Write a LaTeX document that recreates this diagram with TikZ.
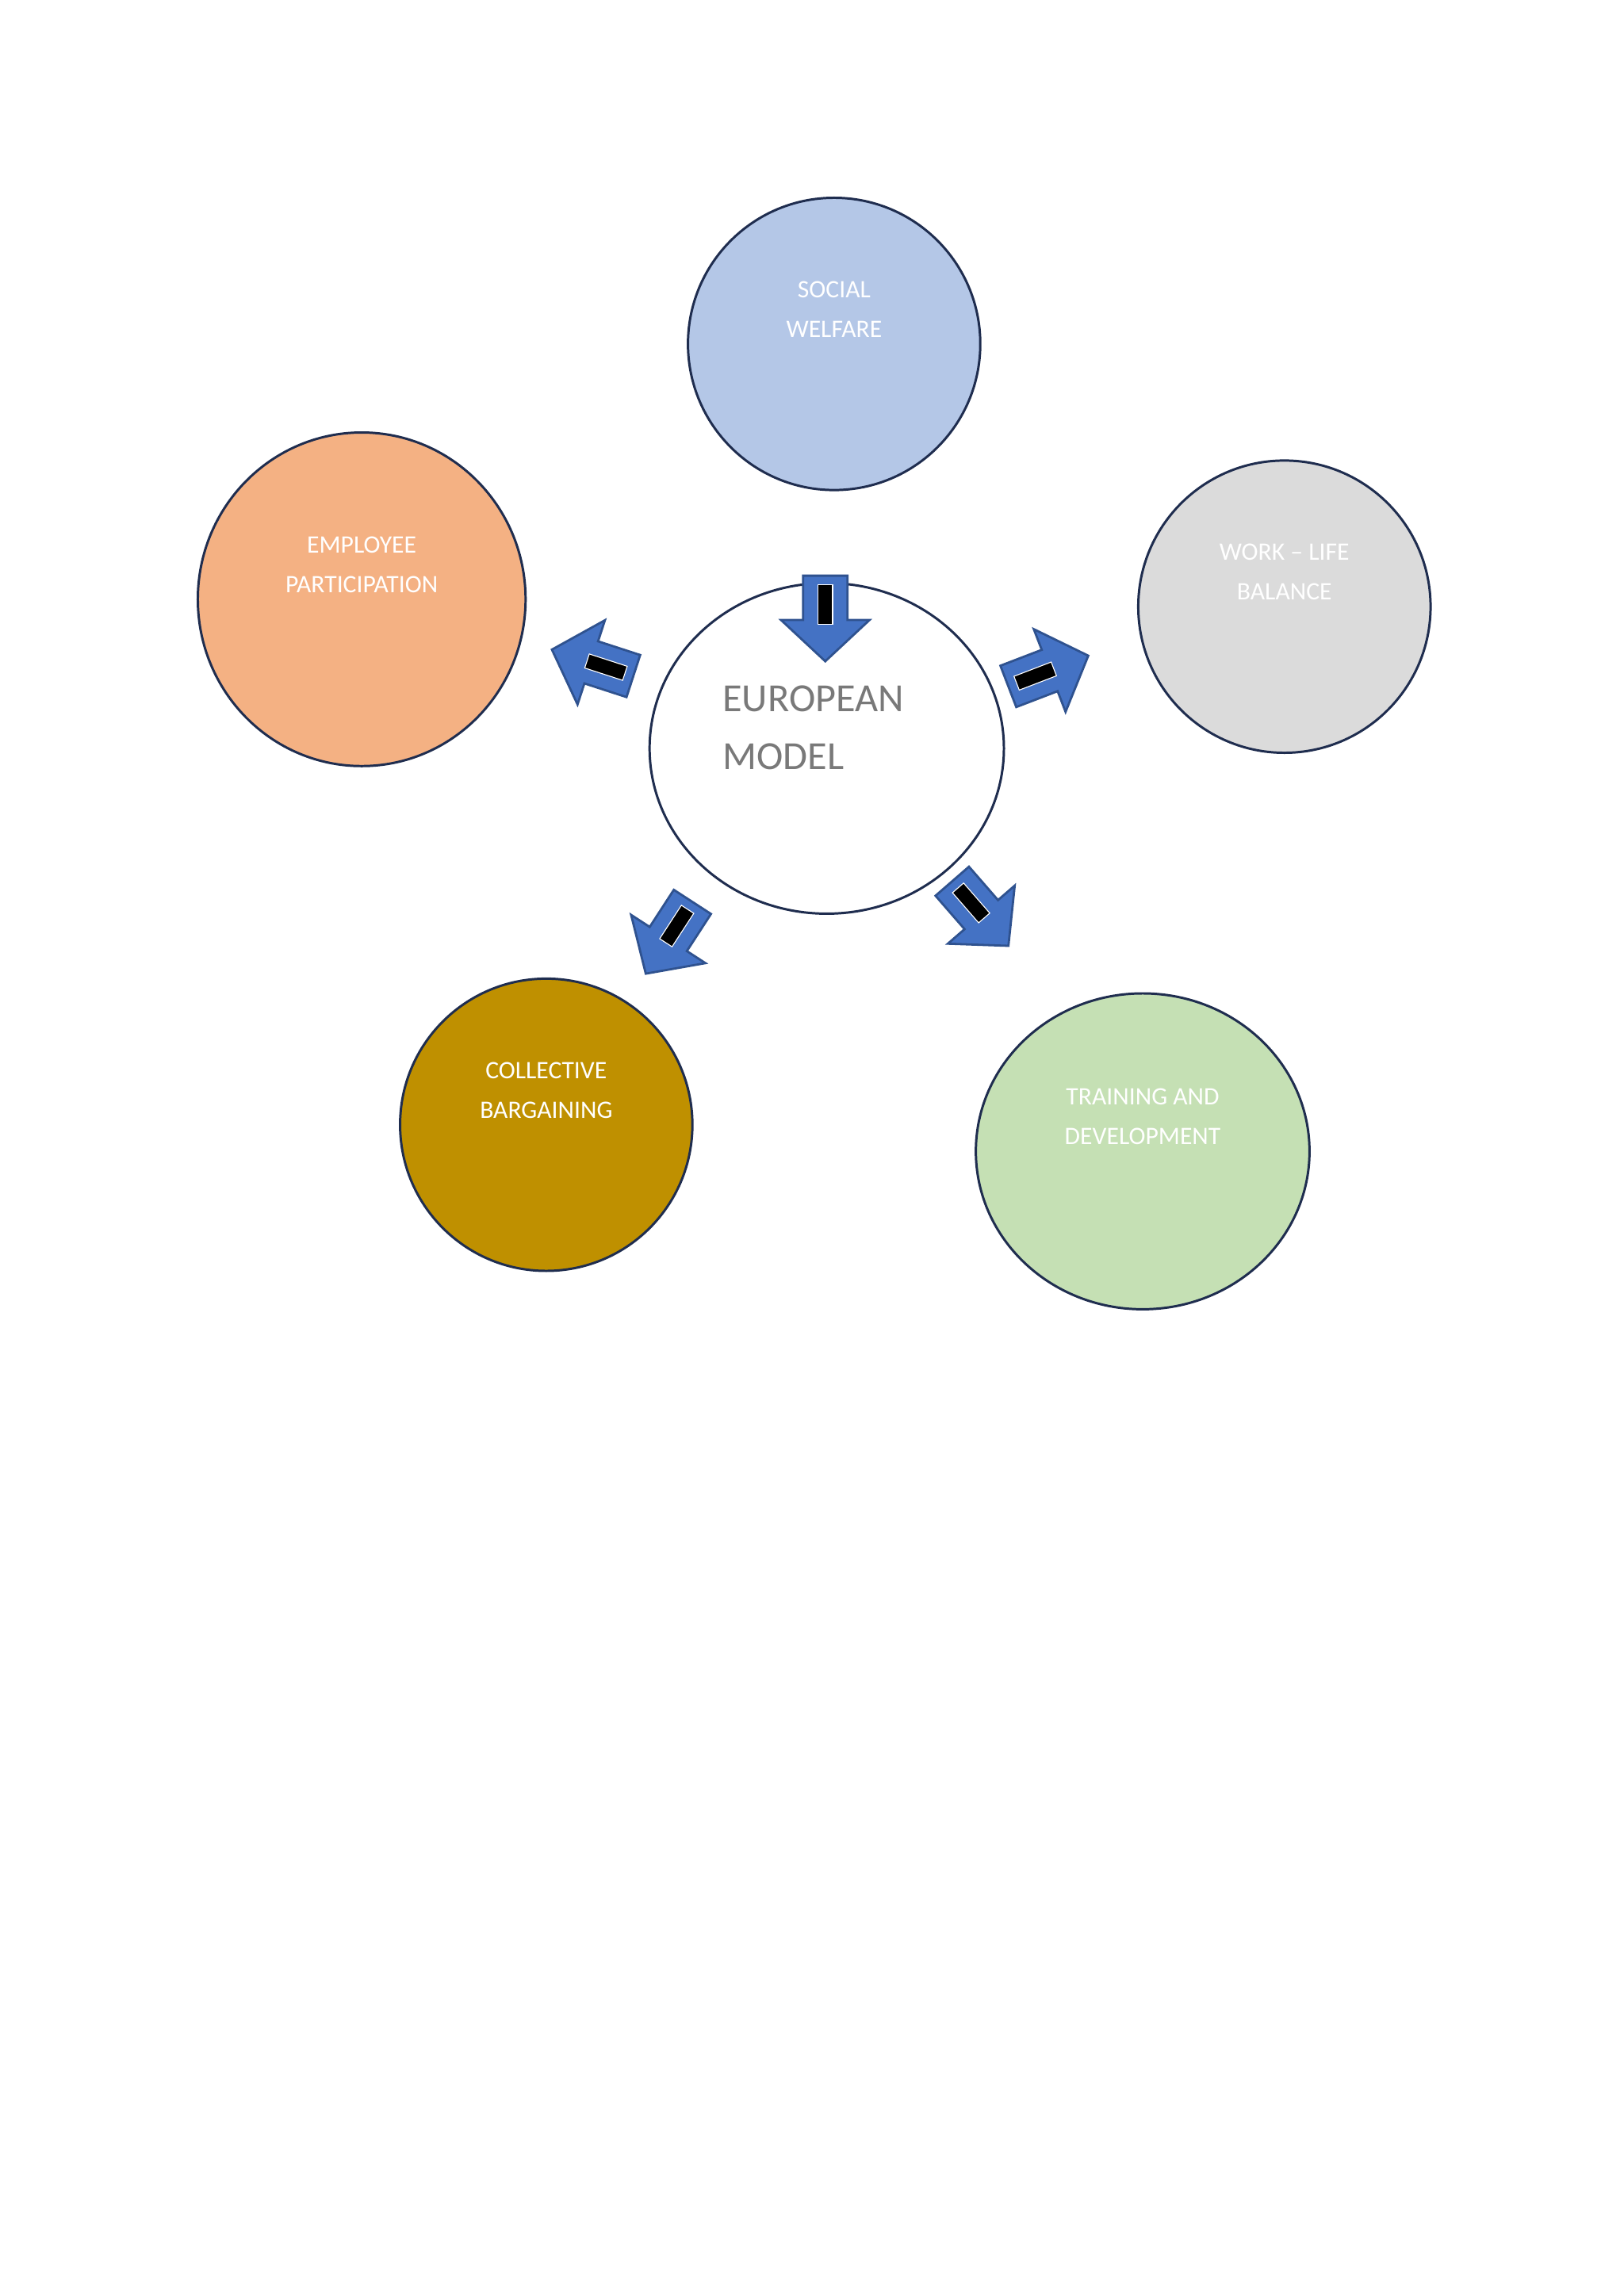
\documentclass[tikz,border=0pt]{standalone}
\usepackage{fontspec}
\setmainfont{Carlito}
\definecolor{navy}{HTML}{1F2D4F}
\definecolor{afill}{HTML}{4472C4}
\definecolor{aline}{HTML}{2F528F}
\definecolor{cSoc}{HTML}{B4C7E7}
\definecolor{cEmp}{HTML}{F4B183}
\definecolor{cWork}{HTML}{DBDBDB}
\definecolor{cCol}{HTML}{BF9000}
\definecolor{cTrain}{HTML}{C5E0B4}
\tikzset{
  circ/.style={ellipse, draw=navy, line width=1.6pt, text=white, align=center, font=\fontsize{17}{27}\selectfont},
  blockarrow/.pic={
    \draw[fill=afill, draw=aline, line width=1.5pt, line join=miter]
      (0,-15) -- (30,-15) -- (30,-30) -- (58,0) -- (30,30) -- (30,15) -- (0,15) -- cycle;
    \draw[fill=black, draw=white, line width=0.6pt] (6,-5) rectangle (33,5);
  }
}
\usetikzlibrary{shapes.geometric}
\begin{document}
\begin{tikzpicture}[x=1pt,y=-1pt]
\useasboundingbox[fill=white] (0,0) rectangle (1100,1555.5);
\node[circ, fill=cSoc, minimum width=198, minimum height=198] (soc) at (565,233) {SOCIAL\\WELFARE\\[20pt]};
\node[circ, fill=cEmp, minimum width=222, minimum height=226] (emp) at (245,406) {EMPLOYEE\\PARTICIPATION\\[20pt]};
\node[circ, fill=cWork, minimum width=198, minimum height=198] (work) at (870,411) {WORK -- LIFE\\BALANCE\\[20pt]};
\node[ellipse, draw=navy, line width=1.6pt, fill=white, minimum width=240, minimum height=224] (eu) at (560,507) {};
\node[anchor=north west, text=gray!95!black, align=left, font=\fontsize{27}{39}\selectfont] (eut) at (486,461) {EUROPEAN\\MODEL};
\node[circ, fill=cCol, minimum width=198, minimum height=198] (col) at (370,762) {COLLECTIVE\\BARGAINING\\[20pt]};
\node[circ, fill=cTrain, minimum width=226, minimum height=214] (tr) at (774,780) {TRAINING AND\\DEVELOPMENT\\[20pt]};
\pic[rotate=-90] at (559,390) {blockarrow};
\pic[rotate=162] at (429,458) {blockarrow};
\pic[rotate=21] at (683,465) {blockarrow};
\pic[rotate=-123] at (469,611) {blockarrow};
\pic[rotate=-49] at (645,597) {blockarrow};
\end{tikzpicture}
\end{document}
